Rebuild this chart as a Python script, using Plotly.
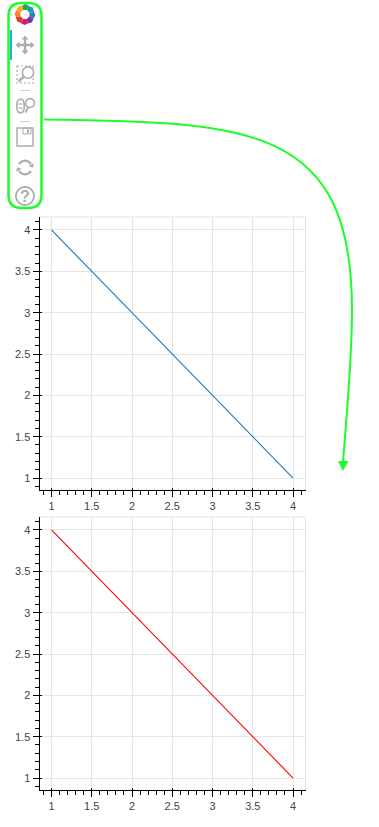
import math
import plotly.graph_objects as go

# ---- data ----
x_values = [1, 2, 3, 4]
y_values = [4, 3, 2, 1]
series_colors = ["#1f77b4", "#ff0000"]
x_range = [0.851, 4.155]
y_range = [0.855, 4.157]

W, H = 379, 827
GREEN = "#1aff2a"
ICON = "#adadad"
FONT = "Liberation Sans"

def px(x): return x / W
def py(y): return 1 - y / H

def path(cmds):
    """cmds: list of (letter, [x,y,...]) in page pixels -> paper-coordinate SVG path"""
    out = []
    for c, pts in cmds:
        if c == "Z":
            out.append("Z")
            continue
        vals = []
        for i in range(0, len(pts), 2):
            vals.append(f"{px(pts[i]):.5f},{py(pts[i+1]):.5f}")
        out.append(c + " ".join(vals))
    return " ".join(out)

def poly(points):
    cmds = [("M", list(points[0]))] + [("L", list(p)) for p in points[1:]] + [("Z", [])]
    return path(cmds)

def shp(p, line=None, lw=0, fill=None, dash=None):
    d = dict(type="path", path=p, xref="paper", yref="paper", layer="above",
             line=dict(width=lw, color=line or "rgba(0,0,0,0)"))
    if dash:
        d["line"]["dash"] = dash
    if fill:
        d["fillcolor"] = fill
    return d

def circle(cx, cy, r, n=48):
    return poly([(cx + r * math.cos(2 * math.pi * i / n), cy + r * math.sin(2 * math.pi * i / n)) for i in range(n)])

def seg(x0, y0, x1, y1):
    return path([("M", [x0, y0]), ("L", [x1, y1])])

shapes = []

# toolbar outline
l, r, t, b, c = 8.5, 41.5, 3, 208, 13
shapes.append(shp(path([("M", [l + c, t]), ("L", [r - c, t]), ("Q", [r, t, r, t + c]), ("L", [r, b - c]),
                        ("Q", [r, b, r - c, b]), ("L", [l + c, b]), ("Q", [l, b, l, b - c]), ("L", [l, t + c]),
                        ("Q", [l, t, l + c, t]), ("Z", [])]), GREEN, 2.5))

# active tool bar
shapes.append(shp(poly([(10, 30), (12, 30), (12, 60), (10, 60)]), fill="#26aae1"))

# logo pinwheel
logo_colors = ["#2ca25f", "#1f9bb5", "#2c7fb8", "#7b3294", "#d81b7a", "#e8352a", "#f58a1f", "#f2b01e"]
lcx, lcy = 25, 14.5
for i, col in enumerate(logo_colors):
    a0 = -math.pi / 2 - math.pi / 8 + i * math.pi / 4
    a1 = a0 + math.pi / 4
    pts = [(lcx + 4.8 * math.cos(a0), lcy + 4.8 * math.sin(a0)),
           (lcx + 9.5 * math.cos(a0 + .12), lcy + 9.5 * math.sin(a0 + .12)),
           (lcx + 10.4 * math.cos(a0 + .45), lcy + 10.4 * math.sin(a0 + .45)),
           (lcx + 9.5 * math.cos(a1 + .12), lcy + 9.5 * math.sin(a1 + .12)),
           (lcx + 4.8 * math.cos(a1), lcy + 4.8 * math.sin(a1))]
    shapes.append(shp(poly(pts), fill=col))

# pan
cx, cy = 25, 45
s = 9.5
for ang in range(4):
    rot = ang * math.pi / 2
    def R(u, v):
        return (cx + u * math.cos(rot) - v * math.sin(rot), cy + u * math.sin(rot) + v * math.cos(rot))
    shapes.append(shp(poly([R(s, 0), R(s - 4, -3.5), R(s - 4, -1.2), R(0, -1.2), R(0, 1.2), R(s - 4, 1.2), R(s - 4, 3.5)]), fill=ICON))

# box zoom
shapes.append(shp(path([("M", [17, 66]), ("L", [33, 66]), ("L", [33, 83]), ("L", [17, 83]), ("Z", [])]), ICON, 1.2, dash="2px,2px"))
shapes.append(shp(circle(28, 72.5, 5.6), ICON, 1.6, fill="#ffffff"))
shapes.append(shp(seg(24, 76.5, 18.5, 81.5), ICON, 2.4))

# separators
shapes.append(shp(seg(20, 90.5, 30, 90.5), "#cfcfcf", 1))
shapes.append(shp(seg(20, 121.5, 30, 121.5), "#cfcfcf", 1))

# wheel zoom
shapes.append(shp(path([("M", [20.5, 99]), ("C", [15.5, 99, 15.5, 113, 20.5, 113]), ("C", [25.5, 113, 25.5, 99, 20.5, 99]), ("Z", [])]), ICON, 1.6))
shapes.append(shp(seg(18.5, 104, 22.5, 104), ICON, 1.2))
shapes.append(shp(seg(18.5, 108, 22.5, 108), ICON, 1.2))
shapes.append(shp(circle(30, 103, 4.4), ICON, 1.5))
shapes.append(shp(seg(28, 107.5, 25.5, 112.5), ICON, 2))

# save
shapes.append(shp(poly([(17, 128), (33, 128), (33, 146), (17, 146)]), ICON, 1.5))
shapes.append(shp(poly([(23, 128), (31, 128), (31, 134), (23, 134)]), ICON, 1))
shapes.append(shp(poly([(27, 129.5), (29, 129.5), (29, 133), (27, 133)]), fill=ICON))

# reset
rcx, rcy, rr = 25, 167.5, 6.8
for start in (-150, 30):
    pts = [(rcx + rr * math.cos(math.radians(start + d)), rcy + rr * math.sin(math.radians(start + d))) for d in range(0, 130, 10)]
    shapes.append(shp(path([("M", list(pts[0]))] + [("L", list(q)) for q in pts[1:]]), ICON, 2.2))
    e = math.radians(start + 125)
    ex, ey = rcx + rr * math.cos(e), rcy + rr * math.sin(e)
    ux, uy = -math.sin(e), math.cos(e)
    nx, ny = math.cos(e), math.sin(e)
    shapes.append(shp(poly([(ex + 3.5 * ux, ey + 3.5 * uy), (ex + 3.2 * nx, ey + 3.2 * ny), (ex - 3.2 * nx, ey - 3.2 * ny)]), fill=ICON))

# help
shapes.append(shp(circle(25, 196, 9), ICON, 1.8))

# green arrow
shapes.append(shp(path([("M", [44, 119.5]), ("C", [250, 122, 352, 125, 352, 310]),
                        ("C", [352, 360, 347, 410, 343, 462])]), GREEN, 2))
shapes.append(shp(poly([(338, 461), (348.5, 461), (343, 471)]), fill=GREEN))

# ---- figure ----
fig = go.Figure()
plots = [
    dict(x="x", y="y", xi="x3", yi="y3", top=217, bottom=490, color=series_colors[0]),
    dict(x="x2", y="y2", xi="x4", yi="y4", top=517, bottom=790, color=series_colors[1]),
]
LEFT, RIGHT = 39.5, 305.5
layout_axes = {}

def axname(a):
    return "xaxis" + a[1:] if a[0] == "x" else "yaxis" + a[1:]

for p in plots:
    xdom = [px(LEFT), px(RIGHT)]
    ydom = [py(p["bottom"]), py(p["top"])]
    # frame
    shapes.append(dict(type="rect", xref=f"{p['x']} domain", yref=f"{p['y']} domain", x0=0, x1=1, y0=0, y1=1,
                       line=dict(color="#e5e5e5", width=1), layer="below"))
    fig.add_trace(go.Scatter(x=[], y=[], mode="lines", xaxis=p["xi"], yaxis=p["yi"], showlegend=False))
    fig.add_trace(go.Scatter(x=x_values, y=y_values, mode="lines", xaxis=p["x"], yaxis=p["y"],
                             line=dict(color=p["color"], width=1.1), showlegend=False, hoverinfo="skip"))
    common = dict(tick0=1, dtick=0.5, showline=True, linecolor="#000000", linewidth=1, zeroline=False)
    layout_axes[axname(p["x"])] = dict(common, domain=xdom, range=x_range, anchor=p["y"], ticks="outside", ticklen=6,
                                       tickcolor="#000", tickwidth=1, showgrid=True, gridcolor="#e5e5e5", gridwidth=1,
                                       tickfont=dict(family=FONT, size=11, color="#444444"),
                                       minor=dict(ticks="outside", ticklen=4, tickcolor="#000", tickwidth=1, tick0=1, dtick=0.1, showgrid=False))
    layout_axes[axname(p["y"])] = dict(common, domain=ydom, range=y_range, anchor=p["x"], ticks="outside", ticklen=6,
                                       tickcolor="#000", tickwidth=1, showgrid=True, gridcolor="#e5e5e5", gridwidth=1,
                                       tickfont=dict(family=FONT, size=11, color="#444444"),
                                       minor=dict(ticks="outside", ticklen=4, tickcolor="#000", tickwidth=1, tick0=1, dtick=0.1, showgrid=False))
    layout_axes[axname(p["xi"])] = dict(common, domain=xdom, range=x_range, anchor=p["yi"], overlaying=p["x"], ticks="inside",
                                        ticklen=2, tickcolor="#000", showgrid=False, showticklabels=False, showline=False)
    layout_axes[axname(p["yi"])] = dict(common, domain=ydom, range=y_range, anchor=p["xi"], overlaying=p["y"], ticks="inside",
                                        ticklen=2, tickcolor="#000", showgrid=False, showticklabels=False, showline=False)

fig.update_layout(
    width=W, height=H, margin=dict(l=0, r=0, t=0, b=0), autosize=False,
    paper_bgcolor="#ffffff", plot_bgcolor="#ffffff", showlegend=False,
    shapes=shapes,
    annotations=[dict(text="<b>?</b>", x=px(25), y=py(196.5), xref="paper", yref="paper", showarrow=False,
                      font=dict(family=FONT, size=16, color=ICON), xanchor="center", yanchor="middle")],
    **layout_axes,
)

fig.write_html("out.html", config=dict(displayModeBar=False, responsive=False),
               post_script="document.body.style.margin='0';document.body.style.overflow='hidden';")
